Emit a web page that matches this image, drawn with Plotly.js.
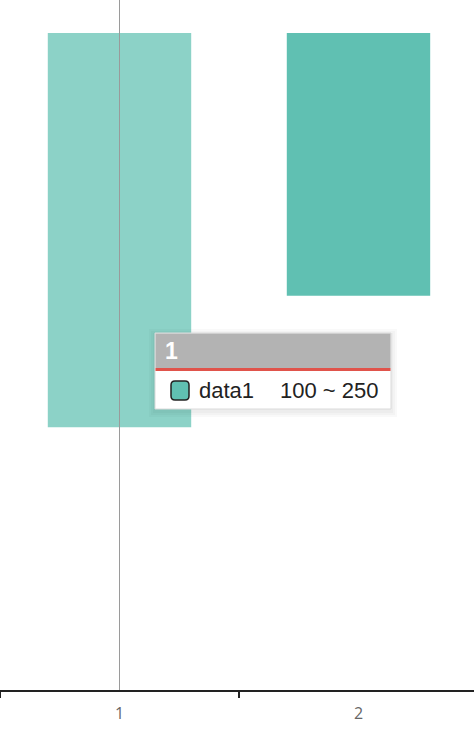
<!DOCTYPE html>
<html>
<head>
<meta charset="utf-8">
<script src="https://cdn.plot.ly/plotly-3.0.1.min.js"></script>
<style>
  html, body { margin: 0; padding: 0; background: #fff; }
  #chart { width: 474px; height: 738px; }
</style>
</head>
<body>
<div id="chart"></div>
<script>
// range bar data
const categories = ['1', '2'];
const lowValues = [100, 150];
const highValues = [250, 250];
const seriesName = 'data1';
const hoverIndex = 0;

const W = 474, plotH = 690;
// pixel -> paper helpers for the tooltip overlay
const px = v => v / W;
const py = v => (plotH - v) / plotH;

const teal = '#60c0b2';
const barColors = categories.map((c, i) => i === hoverIndex ? 'rgba(96,192,178,0.72)' : teal);

const trace = {
    type: 'bar',
    x: categories,
    y: highValues.map((h, i) => h - lowValues[i]),
    base: lowValues,
    marker: { color: barColors, line: { width: 0 } },
    hoverinfo: 'skip'
};

// tooltip box
const tip = { x0: 155, x1: 391, y0: 333, yh: 368, y1: 409 };
const shapes = [
    {
        // hover guide line; category axes take the index for shapes
        type: 'line', xref: 'x', yref: 'paper',
        x0: hoverIndex, x1: hoverIndex, y0: 0, y1: 1,
        line: { color: '#9a9a9a', width: 1 }, layer: 'above'
    }
];
// soft shadow
[6, 4, 2].forEach(s => {
    shapes.push({
        type: 'rect', xref: 'paper', yref: 'paper', layer: 'above',
        x0: px(tip.x0 - s), x1: px(tip.x1 + s), y0: py(tip.y1 + s + 2), y1: py(tip.y0 - s + 2),
        fillcolor: 'rgba(0,0,0,0.025)', line: { width: 0 }
    });
});
shapes.push(
    {
        type: 'rect', xref: 'paper', yref: 'paper', layer: 'above',
        x0: px(tip.x0), x1: px(tip.x1), y0: py(tip.y1), y1: py(tip.y0),
        fillcolor: '#ffffff', line: { color: '#dadada', width: 1 }
    },
    {
        type: 'rect', xref: 'paper', yref: 'paper', layer: 'above',
        x0: px(tip.x0 + 0.5), x1: px(tip.x1 - 0.5), y0: py(tip.yh), y1: py(tip.y0 + 0.5),
        fillcolor: '#b3b3b3', line: { width: 0 }
    },
    {
        type: 'line', xref: 'paper', yref: 'paper', layer: 'above',
        x0: px(tip.x0 + 0.5), x1: px(tip.x1 - 0.5), y0: py(tip.yh + 1.5), y1: py(tip.yh + 1.5),
        line: { color: '#e0534b', width: 3 }
    }
);
// rounded swatch
(function () {
    const x0 = px(171), x1 = px(189), y0 = py(400), y1 = py(381);
    const rx = 4 / W, ry = 4 / plotH;
    const path = `M ${x0 + rx} ${y1} L ${x1 - rx} ${y1} Q ${x1} ${y1} ${x1} ${y1 - ry} ` +
        `L ${x1} ${y0 + ry} Q ${x1} ${y0} ${x1 - rx} ${y0} L ${x0 + rx} ${y0} ` +
        `Q ${x0} ${y0} ${x0} ${y0 + ry} L ${x0} ${y1 - ry} Q ${x0} ${y1} ${x0 + rx} ${y1} Z`;
    shapes.push({
        type: 'path', xref: 'paper', yref: 'paper', layer: 'above', path: path,
        fillcolor: teal, line: { color: '#222', width: 1.5 }
    });
})();

const tipFont = 'Liberation Sans, Arial, sans-serif';
const annotations = [
    {
        xref: 'paper', yref: 'paper', x: px(163), y: py(351), xanchor: 'left', yanchor: 'middle',
        text: '<b>' + categories[hoverIndex] + '</b>', showarrow: false,
        font: { family: tipFont, size: 23, color: '#ffffff' }
    },
    {
        xref: 'paper', yref: 'paper', x: px(197), y: py(390), xanchor: 'left', yanchor: 'middle',
        text: seriesName, showarrow: false,
        font: { family: tipFont, size: 22, color: '#222' }
    },
    {
        xref: 'paper', yref: 'paper', x: px(380), y: py(390), xanchor: 'right', yanchor: 'middle',
        text: lowValues[hoverIndex] + ' ~ ' + highValues[hoverIndex], showarrow: false,
        font: { family: tipFont, size: 22, color: '#222' }
    }
];

const layout = {
    width: 474,
    height: 738,
    margin: { l: 0, r: 0, t: 0, b: 48 },
    paper_bgcolor: '#ffffff',
    plot_bgcolor: '#ffffff',
    showlegend: false,
    bargap: 0.4,
    hovermode: false,
    xaxis: {
        type: 'category',
        range: [-0.5, 1.4833],
        tickson: 'boundaries',
        ticks: 'outside',
        ticklen: 6,
        tickwidth: 1.5,
        tickcolor: '#222',
        ticklabelstandoff: 8,
        showline: true,
        linecolor: '#222',
        linewidth: 1.5,
        showgrid: false,
        zeroline: false,
        tickfont: { family: 'Open Sans, sans-serif', size: 16, color: '#666666' }
    },
    yaxis: {
        visible: false,
        range: [0, 262.6],
        showgrid: false,
        zeroline: false
    },
    shapes: shapes,
    annotations: annotations
};

Plotly.newPlot('chart', [trace], layout, { displayModeBar: false, staticPlot: true });
</script>
</body>
</html>
